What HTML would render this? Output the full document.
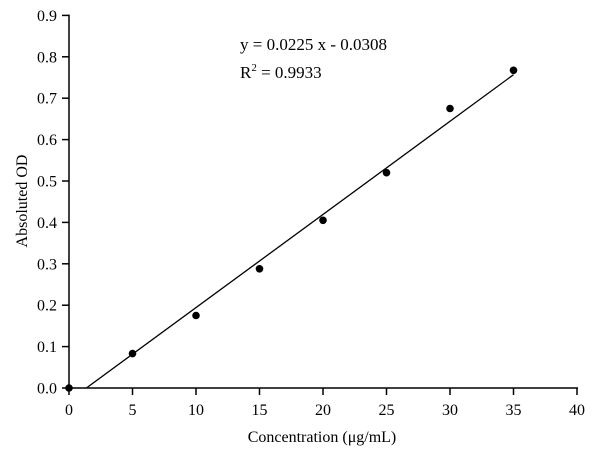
<!DOCTYPE html>
<html><head><style>body{margin:0;background:#fff}</style></head><body>
<svg width="600" height="450" xmlns="http://www.w3.org/2000/svg" font-family="Liberation Serif, serif" font-size="16">
<g stroke="#000" stroke-width="1.5" fill="none">
<line x1="69" y1="14.6" x2="69" y2="388.75"/>
<line x1="68.25" y1="388" x2="578" y2="388"/>
<line x1="62" y1="388" x2="69" y2="388"/>
<line x1="62" y1="346.6" x2="69" y2="346.6"/>
<line x1="62" y1="305.2" x2="69" y2="305.2"/>
<line x1="62" y1="263.8" x2="69" y2="263.8"/>
<line x1="62" y1="222.4" x2="69" y2="222.4"/>
<line x1="62" y1="181" x2="69" y2="181"/>
<line x1="62" y1="139.6" x2="69" y2="139.6"/>
<line x1="62" y1="98.2" x2="69" y2="98.2"/>
<line x1="62" y1="56.8" x2="69" y2="56.8"/>
<line x1="62" y1="15.4" x2="69" y2="15.4"/>
<line x1="69" y1="388" x2="69" y2="395"/>
<line x1="132.5" y1="388" x2="132.5" y2="395"/>
<line x1="196" y1="388" x2="196" y2="395"/>
<line x1="259.5" y1="388" x2="259.5" y2="395"/>
<line x1="323" y1="388" x2="323" y2="395"/>
<line x1="386.5" y1="388" x2="386.5" y2="395"/>
<line x1="450" y1="388" x2="450" y2="395"/>
<line x1="513.5" y1="388" x2="513.5" y2="395"/>
<line x1="577" y1="388" x2="577" y2="395"/>
</g>
<line x1="86.4" y1="388" x2="513.5" y2="74.7" stroke="#000" stroke-width="1.3"/>
<g fill="#000">
<circle cx="69" cy="388" r="3.8"/>
<circle cx="132.5" cy="353.6" r="3.8"/>
<circle cx="196" cy="315.5" r="3.8"/>
<circle cx="259.5" cy="268.8" r="3.8"/>
<circle cx="323" cy="220.3" r="3.8"/>
<circle cx="386.5" cy="172.7" r="3.8"/>
<circle cx="450" cy="108.5" r="3.8"/>
<circle cx="513.5" cy="70.3" r="3.8"/>
</g>
<g text-anchor="end">
<text x="57" y="393.5">0.0</text>
<text x="57" y="352.1">0.1</text>
<text x="57" y="310.7">0.2</text>
<text x="57" y="269.3">0.3</text>
<text x="57" y="227.9">0.4</text>
<text x="57" y="186.5">0.5</text>
<text x="57" y="145.1">0.6</text>
<text x="57" y="103.7">0.7</text>
<text x="57" y="62.3">0.8</text>
<text x="57" y="20.9">0.9</text>
</g>
<g text-anchor="middle">
<text x="69" y="415">0</text>
<text x="132.5" y="415">5</text>
<text x="196" y="415">10</text>
<text x="259.5" y="415">15</text>
<text x="323" y="415">20</text>
<text x="386.5" y="415">25</text>
<text x="450" y="415">30</text>
<text x="513.5" y="415">35</text>
<text x="577" y="415">40</text>
<text x="322" y="442">Concentration (μg/mL)</text>
<text transform="translate(27,201) rotate(-90)">Absoluted OD</text>
</g>
<text x="240" y="50" font-size="17">y = 0.0225 x - 0.0308</text>
<text x="240" y="78" font-size="17">R<tspan font-size="11" dy="-7">2</tspan><tspan dy="7"> = 0.9933</tspan></text>
</svg>
</body></html>
